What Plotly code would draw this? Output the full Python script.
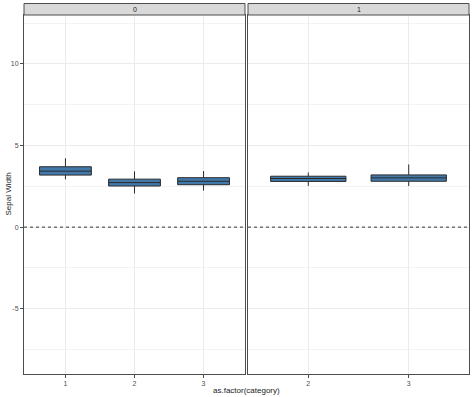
import plotly.graph_objects as go

# ---- data ----
panel_labels = ["0", "1"]

p0_cats = ["1", "2", "3"]
p0_q1 = [3.19, 2.52, 2.60]
p0_med = [3.43, 2.73, 2.81]
p0_q3 = [3.70, 2.94, 3.03]
p0_lo = [2.93, 2.06, 2.24]
p0_hi = [4.22, 3.42, 3.44]

p1_cats = ["2", "3"]
p1_q1 = [2.80, 2.81]
p1_med = [2.98, 3.02]
p1_q3 = [3.12, 3.20]
p1_lo = [2.53, 2.52]
p1_hi = [3.35, 3.84]

y_ticks = [-5, 0, 5, 10]
y_ticktext = ["-5", "0", "5", "10"]
hline_y = 0

# ---- geometry ----
W, H = 474, 397
ML, MR, MT, MB = 24, 5, 15, 23
PW = W - ML - MR
PH = H - MT - MB

FONT = "Liberation Sans, Arial, sans-serif"
FILL = "#4279AB"
EDGE = "#2b2b2b"
GRID = "#EBEBEB"
BORDER = "#4d4d4d"

fig = go.Figure()

box_common = dict(fillcolor=FILL, line=dict(color=EDGE, width=1), whiskerwidth=0,
                  width=0.75, boxpoints=False, showlegend=False, hoverinfo="skip")

fig.add_trace(go.Box(x=p0_cats, q1=p0_q1, median=p0_med, q3=p0_q3,
                     lowerfence=p0_lo, upperfence=p0_hi, xaxis="x", yaxis="y", **box_common))
fig.add_trace(go.Box(x=p1_cats, q1=p1_q1, median=p1_med, q3=p1_q3,
                     lowerfence=p1_lo, upperfence=p1_hi, xaxis="x2", yaxis="y2", **box_common))

gap = 3 / PW
d0 = [0, 0.5 - gap / 2]
d1 = [0.5 + gap / 2, 1]

xcommon = dict(type="category", showgrid=True, gridcolor=GRID, gridwidth=1,
               showline=True, mirror=True, linecolor=BORDER, linewidth=1,
               ticks="outside", ticklen=3, tickcolor=BORDER,
               tickfont=dict(family=FONT, size=7, color="#4d4d4d"), zeroline=False)
ycommon = dict(range=[-9, 13], tickvals=y_ticks, ticktext=y_ticktext, showgrid=True,
               gridcolor=GRID, gridwidth=1,
               minor=dict(dtick=2.5, tick0=0, showgrid=True, gridcolor="#F3F3F3", gridwidth=0.5),
               showline=True, mirror=True, linecolor=BORDER, linewidth=1,
               tickcolor=BORDER, ticklen=3, zeroline=False,
               tickfont=dict(family=FONT, size=7, color="#4d4d4d"))

fig.update_layout(
    width=W, height=H,
    margin=dict(l=ML, r=MR, t=MT, b=MB),
    paper_bgcolor="white", plot_bgcolor="white",
    xaxis=dict(domain=d0, categoryorder="array", categoryarray=p0_cats,
               range=[-0.6, len(p0_cats) - 0.4], **xcommon),
    xaxis2=dict(domain=d1, categoryorder="array", categoryarray=p1_cats,
                range=[-0.6, len(p1_cats) - 0.4], anchor="y2", **xcommon),
    yaxis=dict(anchor="x", ticks="outside", **ycommon),
    yaxis2=dict(anchor="x2", matches="y", showticklabels=False, ticks="", **ycommon),
)

strip_h = 11.5 / PH
shapes = []
annotations = []
for dom, lab in zip([d0, d1], panel_labels):
    shapes.append(dict(type="rect", xref="paper", yref="paper", x0=dom[0], x1=dom[1],
                       y0=1, y1=1 + strip_h, fillcolor="#D9D9D9",
                       line=dict(color=BORDER, width=1), layer="above"))
    annotations.append(dict(text=lab, xref="paper", yref="paper", x=(dom[0] + dom[1]) / 2,
                            y=1 + strip_h / 2, showarrow=False, xanchor="center", yanchor="middle",
                            font=dict(family=FONT, size=7, color="#1a1a1a")))

for xr in ["x domain", "x2 domain"]:
    shapes.append(dict(type="line", xref=xr, yref="y", x0=0, x1=1, y0=hline_y, y1=hline_y,
                       line=dict(color="#333333", width=1, dash="3px,3px"), layer="above"))

annotations.append(dict(text="as.factor(category)", xref="paper", yref="paper", x=0.5,
                        y=-16 / PH, showarrow=False, xanchor="center", yanchor="middle",
                        font=dict(family=FONT, size=8, color="#1a1a1a")))
annotations.append(dict(text="Sepal Width", xref="paper", yref="paper", x=-16 / PW,
                        y=0.5, showarrow=False, xanchor="center", yanchor="middle", textangle=-90,
                        font=dict(family=FONT, size=8, color="#1a1a1a")))

fig.update_layout(shapes=shapes, annotations=annotations)

fig.write_html("out.html")
